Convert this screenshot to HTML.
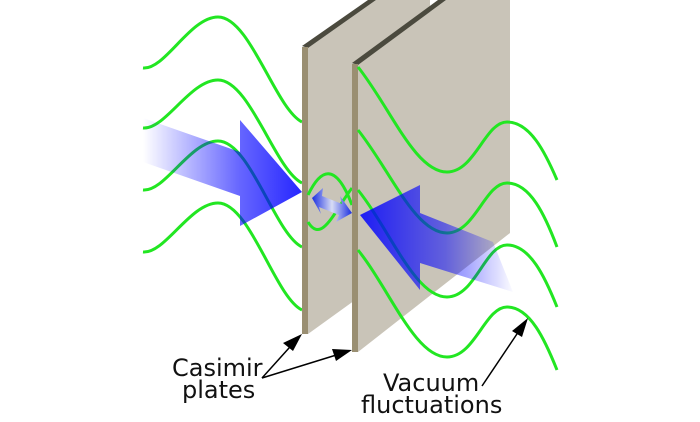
<!DOCTYPE html>
<html><head><meta charset="utf-8"><style>
html,body{margin:0;padding:0;background:#fff;}
svg{display:block;}
text{font-family:"DejaVu Sans","Liberation Sans",sans-serif;font-size:24px;fill:#111;}
</style></head><body>
<svg width="700" height="422" viewBox="0 0 700 422" xmlns="http://www.w3.org/2000/svg">
<defs>
<linearGradient id="gl" x1="143" y1="0" x2="302" y2="0" gradientUnits="userSpaceOnUse">
<stop offset="0" stop-color="#0000ff" stop-opacity="0"/>
<stop offset="0.6" stop-color="#0000ff" stop-opacity="0.7"/>
<stop offset="1" stop-color="#0000ff" stop-opacity="1"/>
</linearGradient>
<linearGradient id="gr" x1="515" y1="0" x2="360" y2="0" gradientUnits="userSpaceOnUse">
<stop offset="0" stop-color="#0000ff" stop-opacity="0"/>
<stop offset="0.45" stop-color="#0000ff" stop-opacity="0.6"/>
<stop offset="1" stop-color="#0000ff" stop-opacity="1"/>
</linearGradient>
<linearGradient id="gm" x1="312" y1="0" x2="352" y2="0" gradientUnits="userSpaceOnUse">
<stop offset="0" stop-color="#1a2ee0"/>
<stop offset="0.5" stop-color="#d8dcf5"/>
<stop offset="1" stop-color="#1a2ee0"/>
</linearGradient>
</defs>
<g fill="none" stroke="#22e622" stroke-width="3">
<path d="M143,68 C165,70 190,17 218,17 C250,17 275,108 302,122"/>
<path d="M143,128 C165,130 190,80 218,80 C250,80 275,170 302,183"/>
<path d="M143,190 C165,192 190,141 218,141 C250,141 275,234 302,247"/>
<path d="M143,252 C165,254 190,203 218,203 C250,203 275,297 302,310"/>
</g>
<polygon points="143,118 240,152 240,120 302,192 240,226 240,196 143,162" fill="url(#gl)" opacity="0.85"/>
<polygon points="308,48 376,0 430,0 430,246 308,334" fill="#c9c4b8"/>
<polygon points="302,46 368,0 376,0 308,48" fill="#4b4a3e"/>
<rect x="302" y="47" width="6" height="287" fill="#9a8f72"/>
<g fill="none" stroke="#22e622" stroke-width="3">
<path d="M308,195 C320,170 335,160 352,205"/>
<path d="M308,222 C322,245 335,210 352,188"/>
</g>
<polygon points="312,198 323,188 322,196 342,204 340,196 352,213 336,222 339,215 319,207 321,214" fill="url(#gm)"/>
<polygon points="358,65 446,0 510,0 510,233 358,352" fill="#c9c4b8"/>
<polygon points="352,63 438,0 446,0 358,65" fill="#4b4a3e"/>
<rect x="352" y="64" width="6" height="288" fill="#9a8f72"/>
<g fill="none" stroke="#22e622" stroke-width="3">
<path d="M358,67 C390,107 415,172 447,172 C475,172 485,122 507,122 C530,122 545,152 557,180"/>
<path d="M358,130 C390,170 415,233 447,233 C475,233 485,183 507,183 C530,183 545,215 557,247"/>
<path d="M358,190 C390,230 415,297 447,297 C475,297 485,245 507,245 C530,245 545,277 557,307"/>
<path d="M358,250 C390,290 415,357 447,357 C475,357 485,307 507,307 C530,307 545,340 557,370"/>
</g>
<polygon points="360,215 420,185 420,213 493,242 513,292 420,263 420,290" fill="url(#gr)" opacity="0.85"/>
<text x="172" y="376">Casimir</text>
<text x="182" y="398">plates</text>
<text x="383" y="391">Vacuum</text>
<text x="361" y="413">fluctuations</text>
<g stroke="#000" stroke-width="1.5" fill="none">
<line x1="262" y1="378" x2="298" y2="338"/>
<line x1="262" y1="378" x2="346" y2="352"/>
<line x1="482" y1="386" x2="525" y2="322"/>
</g>
<g fill="#000">
<polygon points="302,334 283,343 293,351"/>
<polygon points="352,350 332,349 336,361"/>
<polygon points="528,318 512,331 522,337"/>
</g>
</svg>
</body></html>
